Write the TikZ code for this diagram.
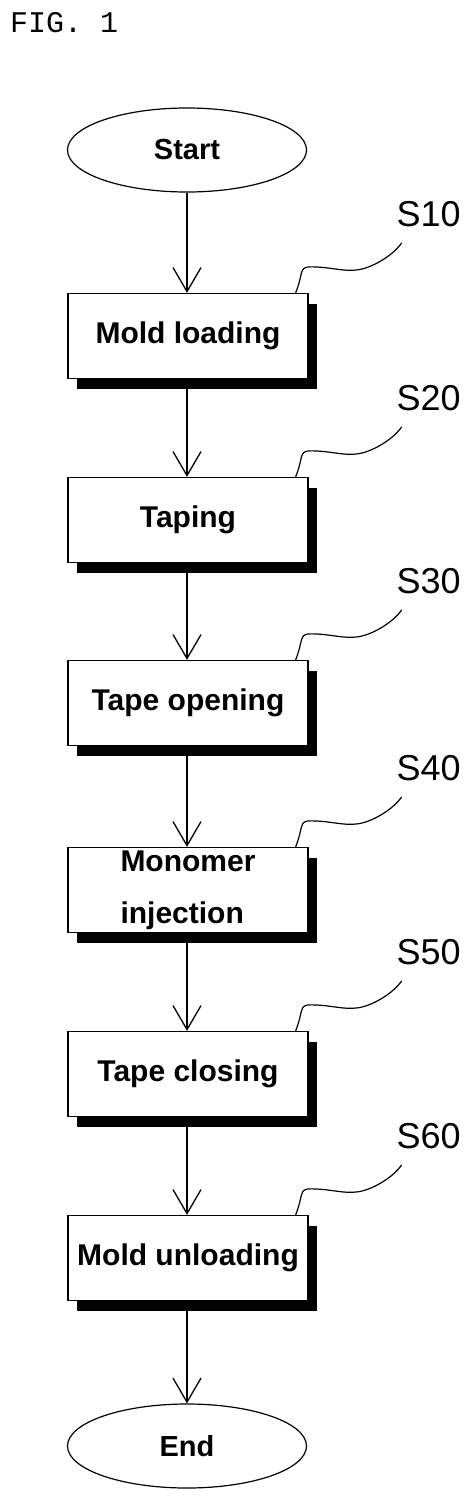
\documentclass[tikz,border=0pt]{standalone}
\usepackage{fontspec}
\setmainfont{Liberation Sans}
\newfontfamily\figfont{Liberation Mono}
\usetikzlibrary{arrows.meta,shadows,shapes.geometric}
\tikzset{
  stepbox/.style={draw=black, line width=1.3pt, fill=white, minimum width=240pt, minimum height=85pt,
    inner sep=0pt, font=\fontsize{30}{52}\selectfont\bfseries,
    drop shadow={shadow xshift=9pt, shadow yshift=-10pt, fill=black, opacity=1}},
  term/.style={draw=black, line width=1.2pt, ellipse, minimum width=239pt, minimum height=84pt,
    inner sep=0pt, font=\fontsize{29}{34}\selectfont\bfseries},
  flow/.style={line width=1.3pt, -{Straight Barb[length=24pt,width=28pt,line width=1.3pt]}},
  steplabel/.style={font=\fontsize{36}{40}\selectfont, inner sep=0pt},
  leader/.style={line width=1.2pt}
}
\begin{document}
\begin{tikzpicture}[x=1pt,y=1pt]
\useasboundingbox (0,0) rectangle (474,-1502);
\node[font=\figfont\fontsize{30}{36}\selectfont, anchor=base west, inner sep=0pt] (fig) at (10,-32) {FIG. 1};
\node[term] (start) at (187,-150) {Start};
\node[stepbox] (b1) at (188,-336) {Mold loading};
\node[stepbox] (b2) at (188,-520) {Taping};
\node[stepbox] (b3) at (188,-703) {Tape opening};
\node[stepbox, align=left] (b4) at (188,-890) {Monomer\\injection};
\node[stepbox] (b5) at (188,-1074) {Tape closing};
\node[stepbox] (b6) at (188,-1258) {Mold unloading};
\node[term] (end) at (187,-1446) {End};
\draw[flow] (start.south) -- (start.south |- b1.north);
\draw[flow] (b1.south -| start.south) -- (start.south |- b2.north);
\draw[flow] (b2.south -| start.south) -- (start.south |- b3.north);
\draw[flow] (b3.south -| start.south) -- (start.south |- b4.north);
\draw[flow] (b4.south -| start.south) -- (start.south |- b5.north);
\draw[flow] (b5.south -| start.south) -- (start.south |- b6.north);
\draw[flow] (b6.south -| start.south) -- (end.north);
\foreach \b/\l in {b1/S10,b2/S20,b3/S30,b4/S40,b5/S50,b6/S60}{
  \coordinate (\b lead) at ([xshift=-13pt]\b.north east);
  \coordinate (\b tip) at ([xshift=93pt,yshift=50pt]\b.north east);
  \node[steplabel] (\b lab) at ([xshift=120pt,yshift=79pt]\b.north east) {\l};
  \draw[leader] (\b lead) .. controls +(8,20) and +(-12,0) .. ([xshift=15pt,yshift=26pt]\b lead)
     .. controls +(20,0) and +(-15,-2) .. ([xshift=62pt,yshift=23pt]\b lead)
     .. controls +(15,2) and +(-8,-12) .. (\b tip);
}
\end{tikzpicture}
\end{document}
